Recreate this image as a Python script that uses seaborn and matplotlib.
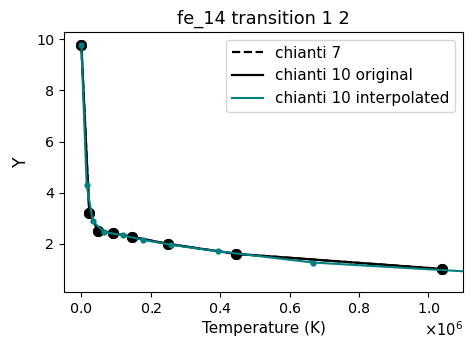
import matplotlib
matplotlib.use("Agg")
import matplotlib.pyplot as plt
import matplotlib.ticker as mticker
import seaborn as sns
import pandas as pd

# chianti 7 (drawn underneath, dashed)
t_c7 = [0.0, 0.023e6, 0.049e6, 0.090e6, 0.147e6, 0.249e6, 0.445e6, 1.038e6]
y_c7 = [9.77, 3.20, 2.51, 2.43, 2.27, 2.00, 1.61, 1.02]

# chianti 10 original
t_orig = [0.0, 0.023e6, 0.049e6, 0.090e6, 0.147e6, 0.249e6, 0.445e6, 1.038e6]
y_orig = [9.77, 3.20, 2.51, 2.43, 2.27, 2.00, 1.61, 1.02]

# chianti 10 interpolated
t_interp = [0.0, 0.0153e6, 0.033e6, 0.065e6, 0.121e6, 0.177e6, 0.259e6, 0.394e6, 0.668e6, 1.25e6]
y_interp = [9.77, 4.30, 2.88, 2.47, 2.33, 2.16, 1.96, 1.71, 1.27, 0.81]

title = "fe_14 transition 1 2"
xlabel = "Temperature (K)"
ylabel = "Y"

fig = plt.figure(figsize=(4.74, 3.48), dpi=100)
ax = fig.add_axes([0.135, 0.161, 0.842, 0.747])

d7 = pd.DataFrame({"t": t_c7, "y": y_c7})
d10 = pd.DataFrame({"t": t_orig, "y": y_orig})
di = pd.DataFrame({"t": t_interp, "y": y_interp})

sns.lineplot(data=d7, x="t", y="y", ax=ax, color="black", linestyle="--",
             marker="o", markersize=8, markeredgewidth=0, linewidth=1.6,
             label="chianti 7", sort=False)
sns.lineplot(data=d10, x="t", y="y", ax=ax, color="black", linestyle="-",
             marker="o", markersize=8, markeredgewidth=0, linewidth=1.6,
             label="chianti 10 original", sort=False)
sns.lineplot(data=di, x="t", y="y", ax=ax, color="#008080", linestyle="-",
             marker="o", markersize=4.5, markeredgewidth=0, linewidth=1.5,
             label="chianti 10 interpolated", sort=False)

ax.set_xlim(-0.05e6, 1.1e6)
ax.set_ylim(0.12, 10.28)
ax.set_yticks([2, 4, 6, 8, 10])
fmt = mticker.ScalarFormatter(useMathText=True)
fmt.set_powerlimits((0, 0))
ax.xaxis.set_major_formatter(fmt)
ax.xaxis.get_offset_text().set_fontsize(10.5)
ax.set_title(title, fontsize=12.8)
ax.set_xlabel(xlabel, fontsize=11)
ax.set_ylabel(ylabel, fontsize=12.5)
ax.tick_params(labelsize=10.3)

leg = ax.legend(loc="upper right", fontsize=11)
for h in leg.legend_handles:
    h.set_marker("")

fig.savefig("out.png", dpi=100)
